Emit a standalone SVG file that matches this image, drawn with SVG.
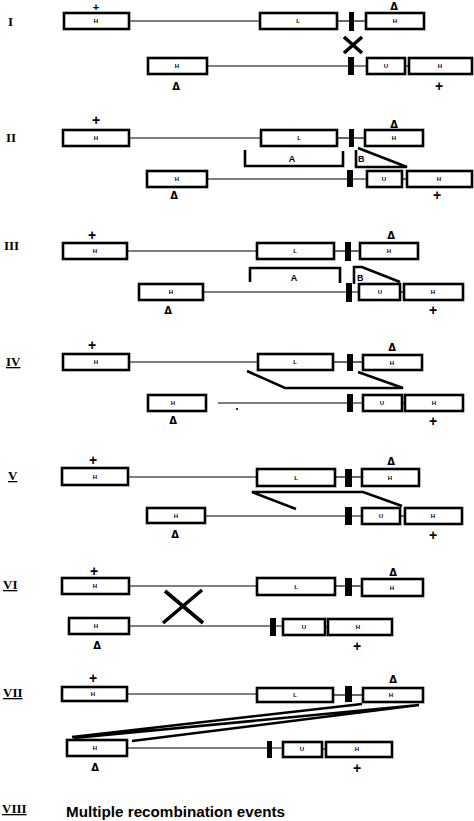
<svg xmlns="http://www.w3.org/2000/svg" width="474" height="821" viewBox="0 0 474 821">
<style>
.box{fill:#fff;stroke:#000;stroke-width:2.6}
.bar{fill:#000}
.ln{stroke:#000;stroke-width:1.2;fill:none}
.thk{stroke:#000;stroke-width:2.6;fill:none}
.x{stroke:#000;stroke-width:3.6;fill:none}
.lbl{font-family:"Liberation Sans",Arial,sans-serif;font-weight:bold;font-size:6px;text-anchor:middle}
.pl{font-family:"Liberation Sans",Arial,sans-serif;font-weight:bold;font-size:14px;text-anchor:middle}
.tr{font-family:"DejaVu Sans",sans-serif;font-weight:bold;font-size:10px;text-anchor:middle}
.ab{font-family:"Liberation Sans",Arial,sans-serif;font-weight:bold;font-size:9px}
.rn{font-family:"Liberation Serif","Times New Roman",serif;font-weight:bold;font-size:13px}
.rnu{font-family:"Liberation Serif","Times New Roman",serif;font-weight:bold;font-size:13px;text-decoration:underline}
.cap{font-family:"Liberation Sans",Arial,sans-serif;font-weight:bold;font-size:14px}
</style>
<rect width="474" height="821" fill="#fff"/>

<!-- connectors -->
<g id="connectors">
  <!-- I -->
  <line class="ln" x1="129" y1="21" x2="260" y2="21"/>
  <line class="ln" x1="337" y1="21" x2="366" y2="21"/>
  <line class="ln" x1="207" y1="66" x2="367" y2="66"/>
  <line class="ln" x1="405" y1="66" x2="409" y2="66"/>
  <path class="x" d="M344,37 L362,53 M362,37 L344,53"/>
  <!-- II -->
  <line class="ln" x1="129" y1="138" x2="261" y2="138"/>
  <line class="ln" x1="337" y1="138" x2="365" y2="138"/>
  <line class="ln" x1="207" y1="179" x2="367" y2="179"/>
  <line class="ln" x1="402" y1="179" x2="407" y2="179"/>
  <path class="thk" d="M245,150 V166 H343 V151"/>
  <path class="thk" d="M356,150 V167 H407 L358,148"/>
  <!-- III -->
  <line class="ln" x1="127" y1="251" x2="257" y2="251"/>
  <line class="ln" x1="334" y1="251" x2="360" y2="251"/>
  <line class="ln" x1="203" y1="292" x2="359" y2="292"/>
  <line class="ln" x1="400" y1="292" x2="404" y2="292"/>
  <path class="thk" d="M250,282 V268 H340 V283"/>
  <path class="thk" d="M354,284 V267 H362 L400,282"/>
  <!-- IV -->
  <line class="ln" x1="129" y1="362" x2="258" y2="362"/>
  <line class="ln" x1="333" y1="362" x2="363" y2="362"/>
  <line class="ln" x1="218" y1="403" x2="363" y2="403"/>
  <line class="ln" x1="402" y1="403" x2="405" y2="403"/>
  <circle cx="237" cy="409" r="1.1" fill="#000"/>
  <path class="thk" d="M247,371 L285,388 H403 L358,372"/>
  <!-- V -->
  <line class="ln" x1="128" y1="477" x2="257" y2="477"/>
  <line class="ln" x1="335" y1="477" x2="362" y2="477"/>
  <line class="ln" x1="205" y1="516" x2="362" y2="516"/>
  <line class="ln" x1="400" y1="516" x2="405" y2="516"/>
  <path class="thk" d="M296,509 L252,492 H363 L402,506"/>
  <!-- VI -->
  <line class="ln" x1="129" y1="586" x2="257" y2="586"/>
  <line class="ln" x1="335" y1="586" x2="362" y2="586"/>
  <line class="ln" x1="129" y1="626" x2="283" y2="626"/>
  <line class="ln" x1="325" y1="627" x2="328" y2="627"/>
  <path class="x" d="M165,591 L203,623 M202,590 L163,623"/>
  <!-- VII -->
  <line class="ln" x1="127" y1="694" x2="257" y2="694"/>
  <line class="ln" x1="333" y1="695" x2="363" y2="695"/>
  <line class="ln" x1="127" y1="748" x2="283" y2="748"/>
  <line class="ln" x1="322" y1="749" x2="326" y2="749"/>
  <path class="thk" d="M362,704 L72,737 M419,705 L74,738 M419,705 L132,741"/>
</g>

<!-- panel I -->
<g id="p1">
  <text class="rn" x="8" y="26">I</text>
  <g id="p1-H1"><rect class="box" x="64" y="13" width="65" height="16"/><text class="lbl" x="96" y="23">H</text></g>
  <text class="pl" x="96" y="11" style="font-size:11px">+</text>
  <g id="p1-L"><rect class="box" x="260" y="13" width="77" height="16"/><text class="lbl" x="298" y="23">L</text></g>
  <rect id="p1-bar1" class="bar" x="349" y="12" width="5" height="19"/>
  <g id="p1-H2"><rect class="box" x="366" y="13" width="58" height="16"/><text class="lbl" x="395" y="23">H</text></g>
  <text class="tr" x="394" y="10">Δ</text>
  <g id="p1-H3"><rect class="box" x="148" y="58" width="59" height="16"/><text class="lbl" x="177" y="68">H</text></g>
  <text class="tr" x="176" y="90">Δ</text>
  <rect id="p1-bar2" class="bar" x="348" y="57" width="6" height="18"/>
  <g id="p1-U"><rect class="box" x="367" y="58" width="38" height="16"/><text class="lbl" x="386" y="68">U</text></g>
  <g id="p1-H4"><rect class="box" x="409" y="58" width="63" height="16"/><text class="lbl" x="440" y="68">H</text></g>
  <text class="pl" x="439" y="91">+</text>
</g>

<!-- panel II -->
<g id="p2">
  <text class="rn" x="6" y="142">II</text>
  <g id="p2-H1"><rect class="box" x="63" y="130" width="66" height="16"/><text class="lbl" x="96" y="140">H</text></g>
  <text class="pl" x="96" y="125">+</text>
  <g id="p2-L"><rect class="box" x="261" y="130" width="76" height="16"/><text class="lbl" x="299" y="140">L</text></g>
  <rect id="p2-bar1" class="bar" x="349" y="129" width="5" height="18"/>
  <g id="p2-H2"><rect class="box" x="365" y="130" width="58" height="16"/><text class="lbl" x="394" y="140">H</text></g>
  <text class="tr" x="394" y="128">Δ</text>
  <text class="ab" x="292" y="162" text-anchor="middle">A</text>
  <text class="ab" x="358" y="162">B</text>
  <g id="p2-H3"><rect class="box" x="147" y="171" width="60" height="16"/><text class="lbl" x="177" y="181">H</text></g>
  <text class="tr" x="174" y="199">Δ</text>
  <rect id="p2-bar2" class="bar" x="347" y="170" width="6" height="17"/>
  <g id="p2-U"><rect class="box" x="367" y="171" width="35" height="16"/><text class="lbl" x="384" y="181">U</text></g>
  <g id="p2-H4"><rect class="box" x="407" y="171" width="65" height="16"/><text class="lbl" x="439" y="181">H</text></g>
  <text class="pl" x="437" y="200">+</text>
</g>

<!-- panel III -->
<g id="p3">
  <text class="rn" x="4" y="250">III</text>
  <g id="p3-H1"><rect class="box" x="63" y="243" width="64" height="16"/><text class="lbl" x="95" y="253">H</text></g>
  <text class="pl" x="92" y="240">+</text>
  <g id="p3-L"><rect class="box" x="257" y="243" width="77" height="16"/><text class="lbl" x="295" y="253">L</text></g>
  <rect id="p3-bar1" class="bar" x="345" y="242" width="6" height="19"/>
  <g id="p3-H2"><rect class="box" x="360" y="243" width="58" height="16"/><text class="lbl" x="389" y="253">H</text></g>
  <text class="tr" x="391" y="239">Δ</text>
  <text class="ab" x="294" y="281" text-anchor="middle">A</text>
  <text class="ab" x="357" y="281">B</text>
  <g id="p3-H3"><rect class="box" x="139" y="284" width="64" height="16"/><text class="lbl" x="171" y="294">H</text></g>
  <text class="tr" x="168" y="314">Δ</text>
  <rect id="p3-bar2" class="bar" x="346" y="283" width="6" height="19"/>
  <g id="p3-U"><rect class="box" x="359" y="284" width="41" height="16"/><text class="lbl" x="380" y="294">U</text></g>
  <g id="p3-H4"><rect class="box" x="404" y="284" width="59" height="16"/><text class="lbl" x="433" y="294">H</text></g>
  <text class="pl" x="433" y="315">+</text>
</g>

<!-- panel IV -->
<g id="p4">
  <text class="rnu" x="6" y="366">IV</text>
  <g id="p4-H1"><rect class="box" x="63" y="354" width="66" height="16"/><text class="lbl" x="96" y="364">H</text></g>
  <text class="pl" x="92" y="350">+</text>
  <g id="p4-L"><rect class="box" x="258" y="354" width="75" height="16"/><text class="lbl" x="295" y="364">L</text></g>
  <rect id="p4-bar1" class="bar" x="347" y="354" width="6" height="17"/>
  <g id="p4-H2"><rect class="box" x="363" y="355" width="59" height="15"/><text class="lbl" x="392" y="365">H</text></g>
  <text class="tr" x="392" y="351">Δ</text>
  <g id="p4-H3"><rect class="box" x="148" y="395" width="58" height="16"/><text class="lbl" x="173" y="405">H</text></g>
  <text class="tr" x="173" y="424">Δ</text>
  <rect id="p4-bar2" class="bar" x="347" y="394" width="6" height="18"/>
  <g id="p4-U"><rect class="box" x="363" y="395" width="39" height="16"/><text class="lbl" x="382" y="405">U</text></g>
  <g id="p4-H4"><rect class="box" x="405" y="395" width="58" height="16"/><text class="lbl" x="434" y="405">H</text></g>
  <text class="pl" x="433" y="426">+</text>
</g>

<!-- panel V -->
<g id="p5">
  <text class="rnu" x="8" y="480">V</text>
  <g id="p5-H1"><rect class="box" x="62" y="468" width="66" height="17"/><text class="lbl" x="95" y="479">H</text></g>
  <text class="pl" x="93" y="465">+</text>
  <g id="p5-L"><rect class="box" x="257" y="469" width="78" height="17"/><text class="lbl" x="296" y="480">L</text></g>
  <rect id="p5-bar1" class="bar" x="345" y="469" width="7" height="18"/>
  <g id="p5-H2"><rect class="box" x="362" y="469" width="57" height="17"/><text class="lbl" x="390" y="480">H</text></g>
  <text class="tr" x="391" y="465">Δ</text>
  <g id="p5-H3"><rect class="box" x="147" y="508" width="58" height="15"/><text class="lbl" x="176" y="518">H</text></g>
  <text class="tr" x="175" y="538">Δ</text>
  <rect id="p5-bar2" class="bar" x="345" y="507" width="7" height="18"/>
  <g id="p5-U"><rect class="box" x="362" y="508" width="38" height="16"/><text class="lbl" x="381" y="518">U</text></g>
  <g id="p5-H4"><rect class="box" x="405" y="508" width="57" height="16"/><text class="lbl" x="433" y="518">H</text></g>
  <text class="pl" x="433" y="540">+</text>
</g>

<!-- panel VI -->
<g id="p6">
  <text class="rnu" x="3" y="589">VI</text>
  <g id="p6-H1"><rect class="box" x="62" y="578" width="67" height="16"/><text class="lbl" x="95" y="588">H</text></g>
  <text class="pl" x="94" y="576">+</text>
  <g id="p6-L"><rect class="box" x="257" y="578" width="78" height="17"/><text class="lbl" x="296" y="589">L</text></g>
  <rect id="p6-bar1" class="bar" x="345" y="578" width="7" height="18"/>
  <g id="p6-H2"><rect class="box" x="362" y="579" width="61" height="17"/><text class="lbl" x="392" y="590">H</text></g>
  <text class="tr" x="393" y="576">Δ</text>
  <g id="p6-H3"><rect class="box" x="69" y="618" width="60" height="16"/><text class="lbl" x="96" y="628">H</text></g>
  <text class="tr" x="97" y="649">Δ</text>
  <rect id="p6-bar2" class="bar" x="270" y="618" width="6" height="18"/>
  <g id="p6-U"><rect class="box" x="283" y="619" width="42" height="16"/><text class="lbl" x="304" y="629">U</text></g>
  <g id="p6-H4"><rect class="box" x="328" y="619" width="64" height="16"/><text class="lbl" x="358" y="629">H</text></g>
  <text class="pl" x="357" y="651">+</text>
</g>

<!-- panel VII -->
<g id="p7">
  <text class="rnu" x="3" y="697">VII</text>
  <g id="p7-H1"><rect class="box" x="62" y="687" width="65" height="14"/><text class="lbl" x="93" y="696">H</text></g>
  <text class="pl" x="93" y="683">+</text>
  <g id="p7-L"><rect class="box" x="257" y="688" width="76" height="14"/><text class="lbl" x="295" y="697">L</text></g>
  <rect id="p7-bar1" class="bar" x="345" y="686" width="7" height="16"/>
  <g id="p7-H2"><rect class="box" x="363" y="688" width="60" height="14"/><text class="lbl" x="391" y="697">H</text></g>
  <text class="tr" x="393" y="683">Δ</text>
  <g id="p7-H3"><rect class="box" x="67" y="740" width="60" height="16"/><text class="lbl" x="95" y="750">H</text></g>
  <text class="tr" x="95" y="771">Δ</text>
  <rect id="p7-bar2" class="bar" x="267" y="741" width="5" height="17"/>
  <g id="p7-U"><rect class="box" x="283" y="742" width="39" height="15"/><text class="lbl" x="302" y="751">U</text></g>
  <g id="p7-H4"><rect class="box" x="326" y="742" width="66" height="15"/><text class="lbl" x="357" y="751">H</text></g>
  <text class="pl" x="357" y="773">+</text>
</g>

<!-- VIII -->
<g id="p8">
  <text class="rnu" x="2" y="813">VIII</text>
  <text class="cap" x="66" y="817" textLength="219" lengthAdjust="spacingAndGlyphs">Multiple recombination events</text>
</g>
</svg>
